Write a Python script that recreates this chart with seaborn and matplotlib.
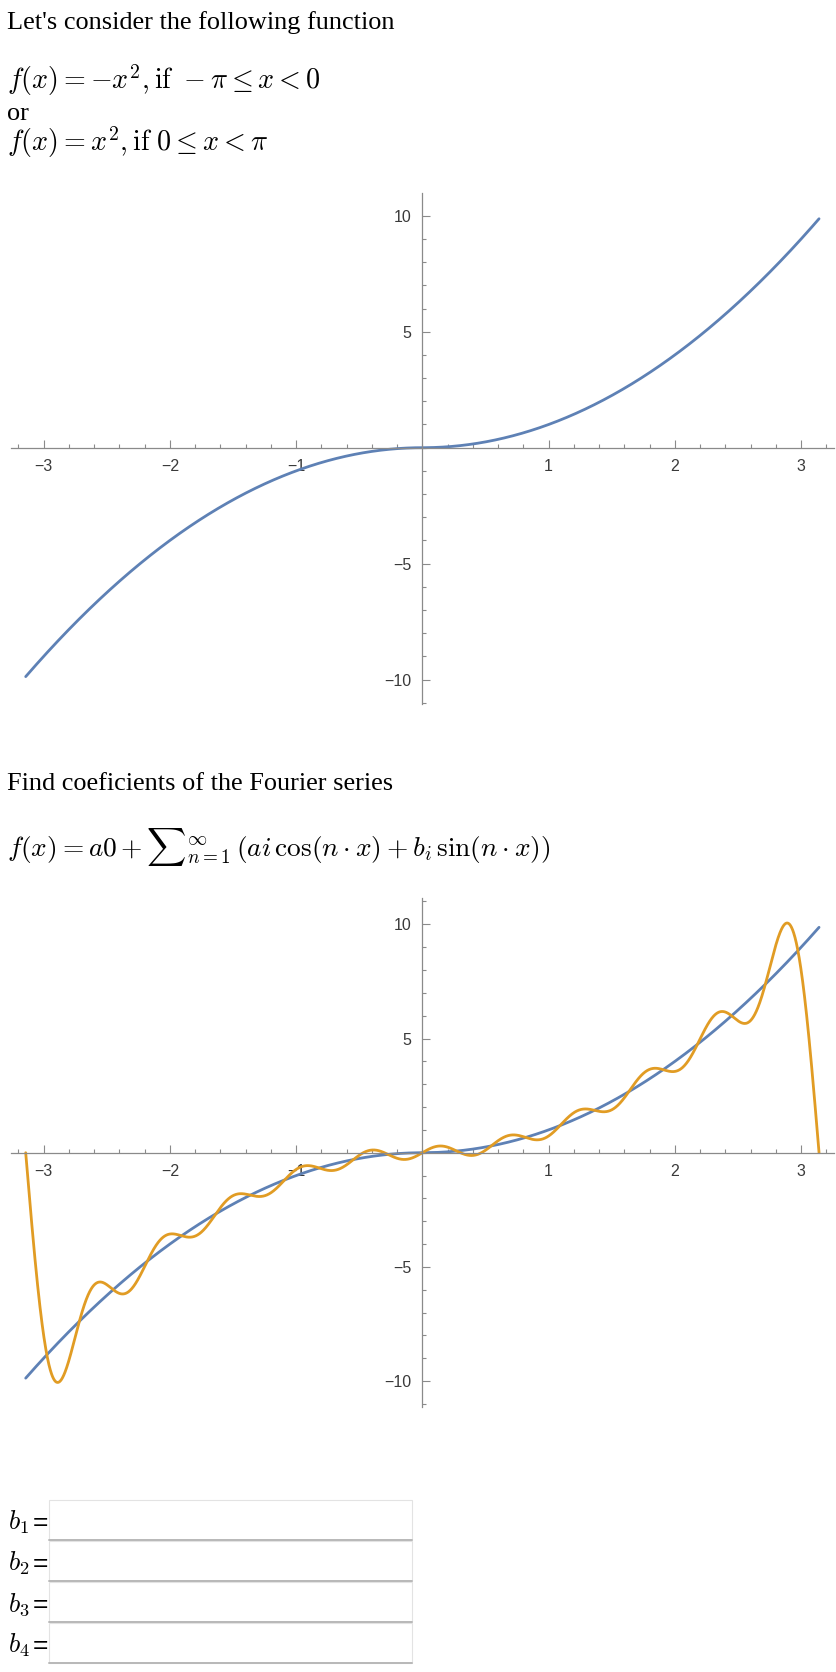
import numpy as np
import matplotlib
matplotlib.use("Agg")
import matplotlib.pyplot as plt
import seaborn as sns
from matplotlib.ticker import FixedLocator, MultipleLocator
from matplotlib.patches import Rectangle
from matplotlib.lines import Line2D

# ---- data ----
x_start, x_end = -np.pi, np.pi
# sine coefficients b1..b11 of the partial Fourier sum (orange curve)
sine_coeffs = [3.737, -3.142, 2.000, -1.571, 1.236, -1.047,
               0.890, -0.785, 0.695, -0.628, 0.569]
x_major = [-3, -2, -1, 1, 2, 3]
y_major = [-10, -5, 5, 10]
box_labels = [r"$b_1$", r"$b_2$", r"$b_3$", r"$b_4$"]

BLUE = "#5E81B5"
ORANGE = "#E19C24"
AXIS = "#8a8a8a"
LABEL = "#3a3a3a"

W, H = 836, 1672


def fx(px):
    return px / W


def fy(py):
    return 1 - py / H


sns.set_theme(style="white")
plt.rcParams["font.family"] = ["Liberation Sans", "DejaVu Sans"]
plt.rcParams["mathtext.fontset"] = "cm"

fig = plt.figure(figsize=(8.36, 16.72), dpi=100)
fig.patch.set_facecolor("white")

xs = np.linspace(x_start, x_end, 3001)
target = xs * np.abs(xs)
partial = np.zeros_like(xs)
for n, b in enumerate(sine_coeffs, start=1):
    partial += b * np.sin(n * xs)


def style_axes(ax, ylim):
    """Mathematica-like axes crossing at the origin."""
    ax.set_xlim(-3.258, 3.260)
    ax.set_ylim(*ylim)
    ax.patch.set_alpha(0)
    for s in ["top", "right"]:
        ax.spines[s].set_visible(False)
    for s in ["left", "bottom"]:
        ax.spines[s].set_position(("data", 0))
        ax.spines[s].set_color(AXIS)
        ax.spines[s].set_linewidth(0.9)
    ax.xaxis.set_major_locator(FixedLocator(x_major))
    ax.xaxis.set_minor_locator(MultipleLocator(0.2))
    ax.yaxis.set_major_locator(FixedLocator(y_major))
    ax.yaxis.set_minor_locator(MultipleLocator(1))
    ax.tick_params(which="both", direction="in", color=AXIS, width=0.8,
                   labelcolor=LABEL, labelsize=11.5,
                   bottom=True, left=True, top=False, right=False)
    ax.tick_params(which="major", length=5.5)
    ax.tick_params(which="minor", length=3.2)
    ax.tick_params(axis="x", pad=8)
    ax.tick_params(axis="y", pad=8)
    ax.set_xlabel("")
    ax.set_ylabel("")
    ax.set_axisbelow(True)


# ---- first plot: f(x) ----
ax1 = fig.add_axes([fx(11), fy(704), (834 - 11) / W, (704 - 193) / H])
sns.lineplot(x=xs, y=target, ax=ax1, color=BLUE, linewidth=2.0)
style_axes(ax1, (-11.05, 10.98))

# ---- second plot: f(x) and partial Fourier sum ----
ax2 = fig.add_axes([fx(11), fy(1406.7), (834 - 11) / W, (1406.7 - 898.3) / H])
sns.lineplot(x=xs, y=target, ax=ax2, color=BLUE, linewidth=2.0)
sns.lineplot(x=xs, y=partial, ax=ax2, color=ORANGE, linewidth=2.0)
style_axes(ax2, (-11.12, 11.14))

# ---- texts ----
serif = ["Liberation Serif", "DejaVu Serif"]
fig.text(fx(7), fy(29), "Let's consider the following function",
         family=serif, fontsize=18.9, va="baseline", color="black")
fig.text(fx(7), fy(89.5), r"$f(x) = -x^2, \mathrm{if}\ -\pi \leq x < 0$",
         fontsize=20.2, va="baseline", color="black")
fig.text(fx(7), fy(120), "or", family=serif, fontsize=18.9,
         va="baseline", color="black")
fig.text(fx(7), fy(151), r"$f(x) = x^2, \mathrm{if}\ 0 \leq x < \pi$",
         fontsize=20.2, va="baseline", color="black")
fig.text(fx(7), fy(790), "Find coeficients of the Fourier series",
         family=serif, fontsize=18.9, va="baseline", color="black")
fig.text(fx(7), fy(856),
         r"$f(x) = a0 + {\sum}_{n=1}^{\infty}\,(ai\,\cos(n\cdot x) + b_i\,\sin(n\cdot x))$",
         fontsize=19.7, va="baseline", color="black")

# ---- input boxes ----
box_tops = [1500, 1541, 1582, 1623]
for label, top in zip(box_labels, box_tops):
    fig.patches.append(Rectangle((fx(49), fy(top + 40)), (412 - 49) / W, 40 / H,
                                 transform=fig.transFigure, facecolor="white",
                                 edgecolor="#e3e3e3", linewidth=0.8))
    fig.lines.append(Line2D([fx(49), fx(412)], [fy(top + 40), fy(top + 40)],
                            transform=fig.transFigure, color="#b8b8b8",
                            linewidth=1.4))
    fig.text(fx(8), fy(top + 30), label, fontsize=19, va="baseline", color="black")
    fig.text(fx(33), fy(top + 30), "=", fontsize=19, va="baseline", color="black")

fig.savefig("out.png", dpi=100)
